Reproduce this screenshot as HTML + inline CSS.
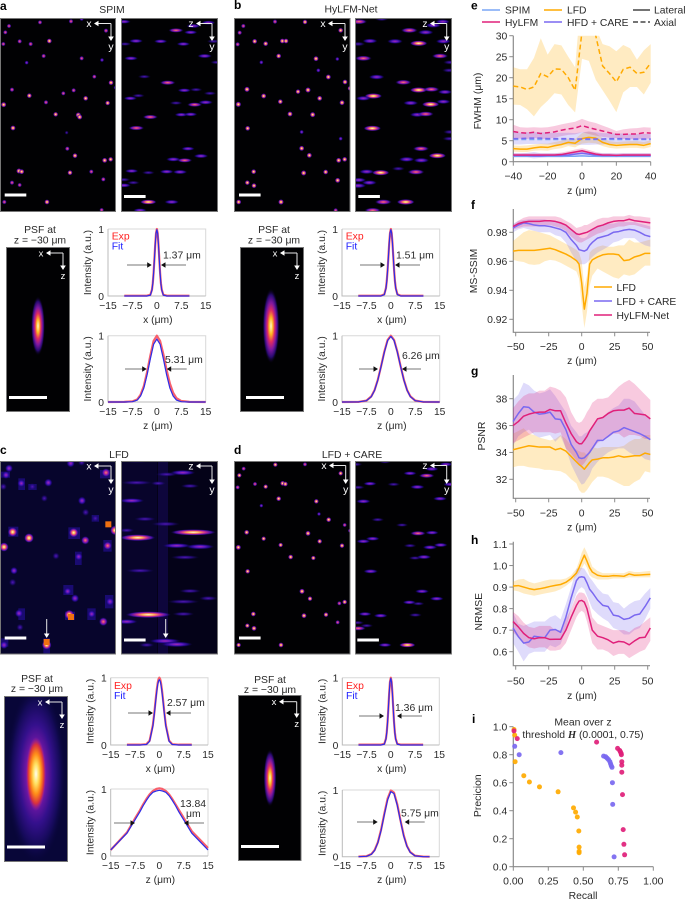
<!DOCTYPE html>
<html lang="en">
<head>
<meta charset="utf-8">
<title>Light-field microscopy resolution comparison figure</title>
<style>
html,body{margin:0;padding:0;background:#fff;width:685px;height:899px;overflow:hidden}
svg{display:block}
text{font-family:"Liberation Sans",sans-serif;fill:#2a2a2a}
.panel{font-weight:bold;font-size:12px;fill:#000}
.title{font-size:10.4px;text-anchor:middle}
.leg{font-size:10.3px}
.white{fill:#fff;font-size:10.4px;text-anchor:middle}
</style>
</head>
<body>
<svg id="figure" xmlns="http://www.w3.org/2000/svg" width="685" height="899" viewBox="0 0 685 899">
<defs>
<radialGradient id="spot1"><stop offset="0" stop-color="#5418b4"/><stop offset=".5" stop-color="#2c0c90" stop-opacity=".75"/><stop offset="1" stop-color="#100650" stop-opacity="0"/></radialGradient>
<radialGradient id="spot2"><stop offset="0" stop-color="#a828b0"/><stop offset=".38" stop-color="#5a18c0"/><stop offset=".7" stop-color="#2808a0" stop-opacity=".75"/><stop offset="1" stop-color="#100650" stop-opacity="0"/></radialGradient>
<radialGradient id="spot3"><stop offset="0" stop-color="#f08870"/><stop offset=".33" stop-color="#c82890"/><stop offset=".65" stop-color="#5814c0" stop-opacity=".9"/><stop offset="1" stop-color="#140660" stop-opacity="0"/></radialGradient>
<radialGradient id="spot4"><stop offset="0" stop-color="#fff8d8"/><stop offset=".28" stop-color="#ffb050"/><stop offset=".52" stop-color="#d03090"/><stop offset=".8" stop-color="#4810b0" stop-opacity=".9"/><stop offset="1" stop-color="#140660" stop-opacity="0"/></radialGradient>
<radialGradient id="psfGrad"><stop offset="0" stop-color="#fffad0"/><stop offset=".22" stop-color="#ffb820"/><stop offset=".42" stop-color="#e02c60"/><stop offset=".62" stop-color="#8018a0"/><stop offset=".82" stop-color="#280a70"/><stop offset="1" stop-color="#000" stop-opacity="0"/></radialGradient>
<radialGradient id="psfGradWide"><stop offset="0" stop-color="#a020a0"/><stop offset=".3" stop-color="#7a18a8"/><stop offset=".55" stop-color="#34108c"/><stop offset=".8" stop-color="#140a58"/><stop offset="1" stop-color="#080638" stop-opacity="0"/></radialGradient>
<radialGradient id="psfCore"><stop offset="0" stop-color="#fffef0"/><stop offset=".28" stop-color="#ffe060"/><stop offset=".55" stop-color="#ff8c18"/><stop offset=".8" stop-color="#d83040"/><stop offset="1" stop-color="#a020a0" stop-opacity="0"/></radialGradient>
<clipPath id="clipE"><rect x="513" y="35.7" width="138" height="127"/></clipPath>
</defs>

<g id="images"></g>
<g id="charts"></g>

<text class="panel" x="0" y="10">a</text>
<text class="panel" x="234" y="9">b</text>
<text class="panel" x="0" y="454">c</text>
<text class="panel" x="234" y="454">d</text>
<text class="panel" x="471" y="9.5">e</text>
<text class="panel" x="471" y="209">f</text>
<text class="panel" x="471" y="375">g</text>
<text class="panel" x="471" y="544">h</text>
<text class="panel" x="472" y="723">i</text>

<text class="title" x="112" y="13">SPIM</text>
<text class="title" x="351" y="12.5">HyLFM-Net</text>
<text class="title" x="119" y="458">LFD</text>
<text class="title" x="352" y="458">LFD + CARE</text>

<text class="title" x="40" y="233">PSF at</text>
<text class="title" x="40" y="243.3">z = −30 μm</text>
<text class="title" x="274" y="233">PSF at</text>
<text class="title" x="274" y="243.3">z = −30 μm</text>
<text class="title" x="37" y="682">PSF at</text>
<text class="title" x="37" y="692">z = −30 μm</text>
<text class="title" x="270" y="683">PSF at</text>
<text class="title" x="270" y="693">z = −30 μm</text>

<g>
<line x1="482" y1="10" x2="500" y2="10" stroke="#7aa5f5" stroke-width="1.5"/>
<text class="leg" x="505" y="13.5">SPIM</text>
<line x1="482" y1="22" x2="500" y2="22" stroke="#e0207a" stroke-width="1.5"/>
<text class="leg" x="505" y="26">HyLFM</text>
<line x1="544" y1="10" x2="562" y2="10" stroke="#ffaa00" stroke-width="1.5"/>
<text class="leg" x="567" y="13.5">LFD</text>
<line x1="544" y1="22" x2="562" y2="22" stroke="#7a68f0" stroke-width="1.5"/>
<text class="leg" x="567" y="26">HFD + CARE</text>
<line x1="633" y1="10" x2="650" y2="10" stroke="#222" stroke-width="1.3"/>
<text class="leg" x="654" y="13.5">Lateral</text>
<line x1="633" y1="22" x2="650" y2="22" stroke="#222" stroke-width="1.3" stroke-dasharray="5 2.5"/>
<text class="leg" x="654" y="26">Axial</text>
</g>

<g>
<line x1="594" y1="287" x2="612" y2="287" stroke="#ffaa00" stroke-width="1.5"/>
<text class="leg" x="616.5" y="291">LFD</text>
<line x1="594" y1="301" x2="612" y2="301" stroke="#7a68f0" stroke-width="1.5"/>
<text class="leg" x="616.5" y="305">LFD + CARE</text>
<line x1="594" y1="315" x2="612" y2="315" stroke="#e0207a" stroke-width="1.5"/>
<text class="leg" x="616.5" y="319">HyLFM-Net</text>
</g>

<text class="title" x="583" y="725.5">Mean over z</text>
<text x="583" y="738" text-anchor="middle" style="font-size:10.4px">threshold <tspan font-family="Liberation Serif" font-weight="bold" font-style="italic">H</tspan> (0.0001, 0.75)</text>

<g>
<text x="163" y="258.5" style="font-size:10.4px">1.37 μm</text>
<text x="165" y="363" style="font-size:10.4px">5.31 μm</text>
<text x="396" y="258.5" style="font-size:10.4px">1.51 μm</text>
<text x="402" y="359" style="font-size:10.4px">6.26 μm</text>
<text x="167" y="706" style="font-size:10.4px">2.57 μm</text>
<text x="180" y="807" style="font-size:10.4px">13.84</text>
<text x="186" y="817" style="font-size:10.4px">μm</text>
<text x="395" y="711" style="font-size:10.4px">1.36 μm</text>
<text x="401" y="816.5" style="font-size:10.4px">5.75 μm</text>
</g>
</svg>

<script>
// ---------- Chart e: FWHM vs z ----------
const zE = [-40,-36,-32,-28,-24,-20,-16,-12,-8,-4,0,4,8,12,16,20,24,28,32,36,40];
const eLfdAxial = [18,17.8,17.2,17.8,21,20.2,22.1,22,20,17,31,36,30,22.8,21,19,22,22.5,21,21.3,23.5];
const eLfdAxialUpper = [22.5,22,22,24.7,29.4,25.5,28,27.7,25,22.5,42,40,32,28,27.5,26.3,27.8,27,24.3,26.5,28];
const eLfdAxialLower = [13.6,13.5,12.5,10.8,13,14.5,16.3,16,13.5,11.7,24.5,24,19.5,17,14.5,11.8,16.5,17.8,17.8,16,18.8];
const eLfdLateral = [3.1,3,3,3.3,3.5,3.4,3.8,4.1,4.6,4.4,5.5,5.8,5.6,4.6,4.1,3.9,4,4.1,4.1,3.9,4.3];
const eLfdLateralUpper = [3.9,3.8,3.9,4.1,4.3,4.3,4.7,5,5.5,5.4,6.8,7.2,6.8,5.6,4.9,4.7,4.8,4.9,4.9,4.7,5.1];
const eLfdLateralLower = [2.4,2.3,2.3,2.6,2.7,2.6,3,3.2,3.7,3.4,4.3,4.5,4.4,3.7,3.3,3.1,3.2,3.3,3.3,3.1,3.5];
const eHylfmAxial = [7.2,6.9,6.8,7,6.7,6.9,7.1,7.5,7.8,8,8.6,8.1,7.7,7.3,6.9,6.5,6.5,6.6,6.6,6.9,6.8];
const eHylfmAxialUpper = [8.8,8.2,8.1,8.2,8.1,8.2,8.5,8.9,9.2,9.5,10.2,9.6,9.2,8.6,8,7.3,7.7,7.9,8,8.2,8.1];
const eHylfmAxialLower = [5.7,5.5,5.4,5.7,5.4,5.5,5.7,6.1,6.4,6.5,7,6.6,6.2,5.9,5.7,5.6,5.4,5.4,5.3,5.5,5.5];
const eHylfmLateral = [1.6,1.6,1.6,1.6,1.6,1.6,1.6,1.7,2,2.3,2.6,2.2,1.8,1.6,1.6,1.5,1.6,1.6,1.6,1.6,1.6];
const eHylfmLateralUpper = [2,2,2,2,2,2,2,2.2,2.5,2.9,3.2,2.8,2.3,2,2,1.9,2,2,2,2,2];
const eHylfmLateralLower = [1.2,1.2,1.2,1.2,1.2,1.2,1.2,1.3,1.5,1.8,2,1.7,1.3,1.2,1.2,1.1,1.2,1.2,1.2,1.2,1.2];
const eCareAxial = [5.5,5.5,5.6,5.6,5.6,5.5,5.5,5.5,5.5,5.4,5.4,5.4,5.4,5.4,5.5,5.5,5.5,5.4,5.4,5.4,5.4];
const eCareAxialUpper = [7,6.9,7,7,7,6.9,6.9,6.9,6.9,6.8,7,7.2,7,6.8,6.8,6.7,6.7,6.6,6.6,6.6,6.6];
const eCareAxialLower = [4.1,4.1,4.2,4.2,4.2,4.1,4.1,4.1,4.1,4,4,4,4.1,4.1,4.2,4.2,4.2,4.2,4.2,4.2,4.2];
const eCareLateral = [1.5,1.5,1.5,1.4,1.4,1.5,1.5,1.5,1.6,1.8,2,1.8,1.6,1.5,1.5,1.5,1.5,1.5,1.5,1.5,1.5];
const eCareLateralUpper = [2,2,2.1,2.3,2,2,2,2,2.1,2.4,2.6,2.4,2.1,2,2,2,2,2,2,2,2];
const eCareLateralLower = [1,1,1,.8,.9,1,1,1,1.1,1.2,1.4,1.2,1.1,1,1,1,1,1,1,1,1];
const eSpimAxial = [5.3,5.3,5.3,5.3,5.3,5.3,5.3,5.3,5.3,5.3,5.3,5.3,5.3,5.3,5.3,5.3,5.3,5.3,5.3,5.3,5.3];
const eSpimLateral = [1.3,1.3,1.3,1.3,1.3,1.3,1.3,1.3,1.3,1.3,1.4,1.3,1.3,1.3,1.3,1.3,1.3,1.3,1.3,1.3,1.3];
const eXTicks = [-40,-20,0,20,40];
const eXTickLabels = ['−40','−20','0','20','40'];
const eYTicks = [0,5,10,15,20,25,30];
const eYTickLabels = ['0','5','10','15','20','25','30'];

// ---------- Charts f, g, h: shared z positions ----------
const zMetric = [-52,-48,-44,-40,-36,-32,-28,-24,-20,-16,-12,-8,-4,-2,0,2,4,6,8,12,16,20,24,28,32,36,40,44,48,52];
const metricXTicks = [-50,-25,0,25,50];
const metricXTickLabels = ['−50','−25','0','25','50'];

const fLfd = [.967,.9675,.9675,.9675,.9675,.968,.9685,.969,.968,.9665,.965,.963,.9605,.958,.945,.927,.938,.958,.961,.963,.9645,.965,.965,.9645,.9605,.961,.963,.964,.9655,.9655];
const fLfdUpper = [.974,.977,.98,.9815,.981,.98,.979,.978,.976,.974,.972,.97,.968,.966,.96,.942,.95,.966,.968,.97,.971,.97,.97,.971,.971,.975,.973,.973,.974,.975];
const fLfdLower = [.961,.96,.9595,.958,.9575,.958,.96,.961,.9605,.959,.957,.955,.953,.948,.93,.914,.925,.943,.95,.955,.953,.951,.949,.948,.951,.95,.951,.954,.957,.957];
const fCare = [.983,.985,.9865,.986,.985,.9845,.9845,.984,.983,.982,.98,.975,.971,.968,.9675,.967,.968,.971,.973,.976,.977,.978,.98,.9805,.9815,.982,.9815,.98,.978,.977];
const fCareUpper = [.986,.988,.9885,.989,.989,.989,.989,.988,.988,.987,.985,.982,.979,.977,.976,.976,.977,.98,.982,.984,.985,.986,.986,.987,.987,.987,.987,.986,.985,.984];
const fCareLower = [.98,.982,.983,.982,.981,.98,.98,.98,.978,.977,.973,.966,.96,.958,.958,.958,.959,.961,.963,.966,.968,.97,.973,.974,.976,.976,.976,.973,.971,.97];
const fHylfm = [.984,.986,.987,.9875,.9875,.9875,.988,.988,.9875,.9865,.985,.982,.979,.9785,.979,.9795,.98,.981,.982,.984,.985,.9865,.9875,.988,.988,.989,.988,.9875,.987,.9865];
const fHylfmUpper = [.985,.988,.99,.991,.991,.991,.991,.991,.991,.99,.988,.986,.983,.9835,.984,.985,.985,.986,.987,.989,.99,.99,.991,.991,.991,.992,.991,.991,.9905,.99];
const fHylfmLower = [.982,.983,.984,.984,.984,.984,.985,.985,.984,.983,.981,.977,.974,.973,.973,.974,.975,.976,.977,.979,.98,.982,.983,.984,.984,.985,.985,.984,.983,.982];
const fYTicks = [.92,.94,.96,.98];
const fYTickLabels = ['0.92','0.94','0.96','0.98'];

const gHylfm = [36,36.3,36.7,36.85,36.95,37,37,37.2,37.1,37.1,36.2,35.4,34.8,34.65,34.65,34.9,35.2,35.6,35.9,36.5,36.6,36.9,37.1,37.15,37.15,37.3,36.9,36.85,36.8,36.5];
const gHylfmUpper = [37.3,37.8,38.2,38.4,38.4,38.6,38.6,38.9,38.8,38.6,38.1,37,36.3,36.2,36.3,36.6,37,37.3,37.7,38,38,38.1,38.5,38.9,39.2,39.4,39.1,38.7,38.3,37.9];
const gHylfmLower = [34.7,34.9,35.1,35.3,35.5,35.5,35.5,35.5,35.4,35.5,34.3,33.9,33.4,33.1,33,33.2,33.5,33.9,34.2,34.7,35,35.1,35.4,35.4,35.1,35.3,35.3,35.2,35,35];
const gCare = [36.3,36.9,37.4,37.35,37,36.85,36.9,37,36.5,36.45,35.7,34.6,34,33.6,33.55,33.6,33.8,34,34.3,34.9,34.9,35.2,35.5,35.6,35.85,35.7,35.55,35.4,35.2,34.95];
const gCareUpper = [37.9,38.3,39.2,39,38.6,38.4,38.5,38.7,38.2,37.6,37,36,35.5,35.2,35.2,35.4,35.5,35.7,36,36.4,36.6,37,37.3,37.5,38,38,37.8,37.3,36.8,36.5];
const gCareLower = [34.5,35.2,35.5,35.7,35.3,35.1,35.2,35.3,34.8,35.2,34.3,33.1,32.3,31.9,31.6,31.7,32,32.3,32.8,33.3,33.7,34,34.2,34.3,34.3,34,33.8,33.8,33.5,33.4];
const gLfd = [34.2,34.3,34.4,34.5,34.45,34.4,34.4,34.4,34.2,34.3,34.1,33.7,33.3,33.1,32.95,32.75,33,33.25,33.45,33.5,33.6,33.6,33.65,33.75,33.65,33.7,33.75,33.75,33.95,33.85];
const gLfdUpper = [35.4,35.6,35.8,35.4,35.3,35.1,35,34.9,35,35.3,35,34.5,34.2,34.1,34,34,33.8,34.2,34.4,34.3,34.4,34.4,34.4,34.4,34.5,34.8,35,35,35.3,35.3];
const gLfdLower = [32.9,33,33,32.9,32.85,32.8,32.7,32.7,32.65,32.6,32.4,32,31.7,31.2,31,31,31.2,31.5,31.8,32.2,32.2,32.1,31.9,31.7,31.5,31.5,31.8,32,32.6,32.5];
const gYTicks = [32,34,36,38];
const gYTickLabels = ['32','34','36','38'];

const hLfd = [.905,.907,.9,.893,.888,.892,.897,.903,.908,.912,.922,.94,.965,.99,1.02,1.048,1.02,.99,.97,.955,.95,.95,.953,.952,.95,.961,.955,.956,.958,.959];
const hLfdUpper = [.925,.935,.938,.925,.917,.923,.93,.935,.935,.935,.94,.955,.985,1.02,1.06,1.085,1.06,1.03,.995,.975,.965,.965,.965,.965,.965,.975,.97,.97,.973,.975];
const hLfdLower = [.885,.88,.87,.865,.86,.865,.87,.875,.88,.89,.905,.925,.95,.965,.985,1.01,.99,.955,.945,.935,.935,.935,.94,.94,.94,.945,.945,.945,.945,.945];
const hCare = [.71,.67,.64,.645,.672,.668,.665,.7,.703,.69,.76,.85,.93,.945,.948,.945,.92,.89,.875,.84,.815,.81,.77,.765,.75,.755,.77,.775,.81,.85];
const hCareUpper = [.78,.73,.72,.73,.74,.74,.74,.76,.77,.75,.82,.9,.985,.99,.99,.985,.965,.945,.93,.895,.87,.865,.83,.825,.8,.82,.835,.84,.87,.895];
const hCareLower = [.64,.6,.555,.59,.6,.6,.6,.63,.62,.635,.7,.8,.87,.89,.9,.89,.86,.83,.8,.775,.755,.74,.71,.7,.68,.68,.7,.71,.75,.8];
const hHylfm = [.74,.715,.685,.665,.66,.665,.665,.657,.658,.658,.7,.76,.815,.835,.838,.83,.8,.75,.7,.672,.665,.655,.64,.648,.645,.632,.65,.665,.667,.71];
const hHylfmUpper = [.785,.765,.735,.715,.71,.72,.72,.72,.7,.7,.75,.8,.86,.875,.875,.87,.85,.81,.76,.73,.72,.71,.7,.7,.7,.69,.71,.72,.74,.76];
const hHylfmLower = [.69,.665,.64,.62,.615,.62,.62,.605,.605,.61,.64,.7,.76,.78,.79,.78,.74,.69,.64,.61,.61,.6,.58,.59,.59,.57,.585,.6,.61,.65];
const hYTicks = [.6,.7,.8,.9,1,1.1];
const hYTickLabels = ['0.6','0.7','0.8','0.9','1.0','1.1'];

// ---------- Chart i: precision / recall ----------
const iLfdRecall = [.005,.01,.013,.075,.115,.187,.32,.43,.445,.457,.468,.47,.47,.47];
const iLfdPrecision = [.98,.94,.75,.65,.605,.57,.535,.42,.39,.355,.255,.14,.11,.1];
const iCareRecall = [.01,.042,.34,.645,.66,.67,.68,.69,.695,.7,.705,.708,.71,.72];
const iCarePrecision = [.86,.8,.815,.79,.785,.775,.765,.75,.735,.72,.71,.6,.445,.07];
const iHylfmRecall = [.005,.028,.595,.745,.76,.765,.77,.772,.775,.775,.775,.78,.785,.79,.795];
const iHylfmPrecision = [.97,.915,.89,.845,.83,.82,.81,.8,.75,.725,.675,.515,.265,.16,.085];
const iXTicks = [0,.25,.5,.75,1];
const iXTickLabels = ['0.00','0.25','0.50','0.75','1.00'];
const iYTicks = [0,.2,.4,.6,.8,1];
const iYTickLabels = ['0.0','0.2','0.4','0.6','0.8','1.0'];

// ---------- PSF profile plots ----------
const psfXTicks = [-15,-7.5,0,7.5,15];
const psfXTickLabels = ['−15','−7.5','0','7.5','15'];
const psfYTicks = [0,1];
const psfYTickLabels = ['0','1'];
const lateralPos = [-10,-6,-4,-3,-2,-1.5,-1.25,-1,-.75,-.5,-.25,0,.25,.5,.75,1,1.25,1.5,2,3,4,6,10];
const axialPos = [-15,-10,-7.5,-6,-5,-4,-3,-2,-1,0,1,2,3,4,5,6,7.5,10,15];
const axialPosD = [-10,-7.5,-6,-5,-4,-3,-2,-1,0,1,2,3,4,5,6,7.5,10,12];
const aLatExp = [.005,.005,.005,.006,.018,.095,.19,.345,.55,.77,.94,1,.94,.77,.55,.345,.19,.095,.018,.006,.005,.005,.005];
const aLatFit = [0,0,0,0,.013,.088,.184,.339,.544,.763,.935,.99,.935,.763,.544,.339,.184,.088,.013,0,0,0,0];
const aAxExp = [0,.002,.01,.04,.11,.24,.45,.7,.92,1,.92,.72,.48,.28,.14,.06,.015,.002,0];
const aAxFit = [0,0,.005,.03,.09,.21,.41,.65,.87,.95,.87,.65,.41,.21,.09,.03,.005,0,0];
const bLatExp = [.005,.005,.005,.006,.026,.12,.225,.385,.585,.79,.94,1,.94,.79,.585,.385,.225,.12,.026,.006,.005,.005,.005];
const bLatFit = [0,0,0,0,.021,.114,.22,.38,.58,.786,.94,.99,.94,.786,.58,.38,.22,.114,.021,0,0,0,0];
const bAxExp = [0,.001,.021,.085,.18,.335,.54,.76,.935,1,.935,.76,.54,.335,.18,.085,.021,.001,0];
const bAxFit = [0,.001,.02,.08,.175,.33,.535,.75,.925,.99,.925,.75,.535,.33,.175,.08,.02,.001,0];
const cLatExp = [.005,.005,.012,.065,.295,.5,.62,.735,.84,.925,.98,1,.98,.925,.84,.735,.62,.5,.295,.065,.012,.005,.005];
const cLatFit = [0,0,.007,.055,.28,.48,.6,.71,.815,.9,.95,.97,.95,.9,.815,.71,.6,.48,.28,.055,.007,0,0];
const cAxExp = [.09,.35,.56,.68,.77,.85,.92,.97,1,1.01,1,.97,.92,.85,.77,.69,.57,.37,.12];
const cAxFit = [.09,.34,.54,.66,.75,.83,.9,.95,.97,.98,.97,.95,.9,.83,.75,.66,.54,.34,.09];
const dLatExp = [.005,.005,.005,.006,.018,.095,.19,.345,.55,.77,.94,1,.94,.77,.55,.345,.19,.095,.018,.006,.005,.005,.005];
const dLatFit = [0,0,0,0,.013,.088,.184,.339,.544,.763,.935,.99,.935,.763,.544,.339,.184,.088,.013,0,0,0,0];
const dAxExp = [.002,.008,.04,.1,.216,.405,.645,.87,.993,.96,.786,.545,.32,.16,.07,.015,.002,0];
const dAxFit = [0,.006,.036,.094,.21,.395,.63,.85,.975,.945,.77,.535,.31,.155,.065,.012,0,0];

// ---------- Image spots: [column, row, intensity] in image raster units ----------
const spotsAXY = [[27,78,.5],[16,97,.5],[120,67,.5],[213,64,.6],[318,92,.6],[10,132,.5],[59,124,.6],[92,132,.6],[148,123,.8],[131,168,.6],[80,188,.3],[245,175,.6],[306,180,.3],[283,230,.5],[333,248,.8],[347,263,.4],[36,269,.6],[88,287,.8],[190,280,.5],[221,271,.6],[257,295,.8],[138,307,.6],[11,314,1],[323,309,.7],[167,343,.7],[235,345,1],[239,351,1],[39,384,.9],[200,398,.2],[202,446,.6],[225,467,.8],[314,481,.9],[332,478,.7],[57,513,1],[65,515,.9],[210,518,.8],[274,515,.6],[310,538,.6],[36,548,.6],[59,555,.5],[13,606,.6],[141,606,.8],[305,630,.5],[245,57,.3]];
const spotsAZY = [[372,65,.4],[528,91,.7],[572,97,.4],[625,68,.5],[580,78,.5],[408,123,.5],[482,124,.4],[375,132,.3],[550,132,.4],[640,124,.3],[393,175,.5],[614,168,.6],[650,187,.3],[433,230,.3],[503,248,.8],[553,271,.4],[588,269,.3],[630,280,.3],[415,287,.3],[391,295,.4],[528,309,.3],[584,314,.7],[617,307,.6],[544,344,.4],[572,343,.4],[451,351,.7],[409,384,.8],[564,446,.4],[603,468,.6],[520,478,.6],[554,481,.7],[395,513,.4],[445,518,.3],[500,515,.5],[540,516,.6],[372,539,.3],[400,548,.3],[372,556,.5],[445,606,.9],[515,606,.6],[420,631,.4]];
const spotsBXY = [[40,78,.5],[29,98,.5],[135,65,.5],[225,66,.6],[332,91,.7],[23,133,.5],[74,124,.7],[107,131,.7],[157,123,.7],[168,123,.7],[146,168,.7],[94,187,.25],[258,176,.8],[322,177,.2],[265,211,.3],[295,231,.8],[345,246,.7],[360,265,.6],[51,268,.9],[101,288,.8],[204,275,.6],[234,270,.9],[269,295,.8],[151,305,.7],[25,313,.95],[336,308,.8],[180,342,.8],[248,344,.9],[53,385,.7],[215,396,.3],[332,416,.25],[215,445,.8],[238,466,.8],[326,481,.8],[344,478,.7],[71,515,.7],[221,519,.9],[287,516,.7],[323,541,.8],[52,548,.6],[72,557,.7],[26,606,.7],[153,606,.9],[317,631,.5]];
const spotsBZY = [[387,65,.7],[455,57,.2],[538,91,.8],[587,97,.6],[638,65,.4],[610,76,.6],[420,123,.5],[495,124,.6],[385,132,.3],[566,130,.9],[640,124,.5],[400,175,.8],[630,168,.7],[660,187,.3],[657,211,.3],[440,231,.6],[520,247,.7],[566,270,.9],[604,268,.7],[645,276,.4],[430,288,.9],[400,295,.5],[542,309,.5],[602,313,.9],[640,305,.4],[562,344,.5],[587,342,.7],[427,385,.9],[660,396,.3],[658,416,.3],[573,446,.7],[622,467,.9],[530,478,.6],[574,481,.6],[410,515,.5],[452,518,.9],[505,506,.2],[558,516,.8],[387,540,.4],[418,548,.5],[385,557,.6],[460,606,.8],[527,606,.95],[428,631,.7]];
const spotsCXY = [[27,115,.5],[18,135,.5],[64,160,.5],[10,170,.3],[97,170,.3],[145,158,.6],[212,100,.6],[245,97,.3],[318,128,.8],[133,205,.25],[246,212,.6],[257,247,.35],[286,265,.3],[38,306,1],[87,324,1],[221,308,1],[345,301,1],[12,351,.9],[256,331,.7],[323,347,.7],[168,378,.3],[236,380,.5],[42,422,.4],[38,457,.35],[203,484,.4],[225,505,.6],[330,515,.6],[57,550,.6],[208,554,1],[275,552,.4],[310,575,.8],[60,592,.25],[140,645,1],[12,645,.6]];
const patchesC = [[55,145,20,35],[85,162,25,18],[0,125,30,18],[205,292,35,35],[310,330,25,35],[225,365,20,40],[190,465,30,30],[315,495,25,40],[55,535,20,35],[262,535,25,35],[195,545,30,25],[275,255,22,20],[300,120,30,25],[130,625,20,45],[0,625,25,25],[25,290,30,30]];
const hotPixelsC = [[325,283],[213,561],[140,636]];
const streaksCZY = [[548,128,35,.5],[500,133,30,.2],[410,158,45,.25],[475,160,20,.2],[570,168,25,.15],[395,212,35,.4],[435,267,30,.2],[497,282,40,.3],[580,307,65,.85],[413,323,50,1],[530,347,40,.4],[600,350,40,.55],[380,301,20,.2],[555,382,40,.2],[420,422,40,.2],[570,483,30,.15],[550,515,45,.25],[625,505,25,.3],[445,554,65,1],[380,575,30,.4],[550,552,30,.15],[495,633,45,.5],[530,643,45,.6],[440,645,20,.2],[410,92,40,.15]];
const spotsDXY = [[41,116,.5],[28,136,.6],[136,104,.6],[225,103,.5],[332,130,.6],[23,172,.5],[75,162,.5],[107,170,.6],[158,160,.8],[166,162,.8],[146,206,.8],[94,227,.2],[259,214,.7],[267,252,.2],[296,269,.8],[344,285,.4],[360,302,.4],[50,307,.8],[101,326,.6],[234,310,.9],[269,334,.7],[152,345,.6],[25,352,.95],[336,347,.7],[182,381,.8],[250,384,.6],[53,424,.7],[216,484,1],[240,506,.7],[328,520,.5],[344,516,.7],[70,552,.8],[222,557,.9],[288,554,.7],[323,577,.5],[52,587,.6],[72,595,.9],[26,645,.6],[153,645,.8]];
const spotsDZY = [[378,103,.3],[465,95,.2],[540,130,.4],[590,137,.8],[605,117,.5],[648,103,.4],[420,161,.4],[491,163,.3],[385,172,.3],[562,171,.6],[660,163,.4],[400,214,.6],[630,206,.5],[443,269,.3],[516,285,.2],[564,310,.8],[606,308,.4],[428,326,.5],[400,334,.5],[540,347,.3],[600,352,.6],[632,345,.5],[555,384,.3],[582,381,.6],[422,424,.6],[576,484,.5],[620,506,.5],[538,517,.4],[565,521,.2],[405,552,.4],[452,557,.5],[556,555,.35],[383,578,.3],[410,587,.3],[385,595,.7],[465,645,.4],[532,645,.9]];

// ---------- Helpers ----------
const NS = 'http://www.w3.org/2000/svg';
const COLORS = {lfd:'#ffaa00', care:'#7a68f0', hylfm:'#e0207a', spim:'#7aa5f5'};
const figure = document.getElementById('figure');
const imagesRoot = document.getElementById('images');
const chartsRoot = document.getElementById('charts');
const defs = figure.querySelector('defs');

function make(tag, attrs, parent, content) {
  const e = document.createElementNS(NS, tag);
  for (const k in attrs) e.setAttribute(k, attrs[k]);
  if (content !== undefined) e.textContent = content;
  parent.appendChild(e);
  return e;
}
function linear(d0, d1, r0, r1) {
  return v => r0 + (v - d0) / (d1 - d0) * (r1 - r0);
}
function linePath(xs, ys, sx, sy) {
  return xs.map((x, i) => (i ? 'L' : 'M') + sx(x).toFixed(2) + ' ' + sy(ys[i]).toFixed(2)).join('');
}
function bandPath(xs, up, lo, sx, sy) {
  let d = linePath(xs, up, sx, sy);
  for (let i = xs.length - 1; i >= 0; i--) d += 'L' + sx(xs[i]).toFixed(2) + ' ' + sy(lo[i]).toFixed(2);
  return d + 'Z';
}
function drawBand(g, xs, up, lo, sx, sy, color, name) {
  const b = make('path', {d: bandPath(xs, up, lo, sx, sy), fill: color, 'fill-opacity': .24}, g);
  
  
}
function drawLine(g, xs, ys, sx, sy, color, name, dash, width) {
  const l = make('path', {d: linePath(xs, ys, sx, sy), fill: 'none', stroke: color, 'stroke-width': width || 1.5, 'stroke-linejoin': 'round'}, g);
  if (dash) l.setAttribute('stroke-dasharray', dash);
  
  
}
function drawArrow(g, x1, x2, y, color, name) {
  const dir = x2 > x1 ? 1 : -1;
  const shaft = make('line', {x1: x1, y1: y, x2: x2 - dir * 3, y2: y, stroke: color, 'stroke-width': 1}, g);
  
  
  const head = make('polygon', {points: x2 + ',' + y + ' ' + (x2 - dir * 4.5) + ',' + (y - 2.8) + ' ' + (x2 - dir * 4.5) + ',' + (y + 2.8), fill: color === '#777' ? '#111' : color}, g);
  
  
}
function drawDownArrow(g, x, y1, y2, name) {
  const shaft = make('line', {x1: x, y1: y1, x2: x, y2: y2 - 3, stroke: '#e8e8e8', 'stroke-width': 1}, g);
  
  
  const head = make('polygon', {points: x + ',' + y2 + ' ' + (x - 2.8) + ',' + (y2 - 4.5) + ' ' + (x + 2.8) + ',' + (y2 - 4.5), fill: '#fff'}, g);
  
  
}
function spotFill(i) {
  if (i <= .35) return 'url(#spot1)';
  if (i <= .6) return 'url(#spot2)';
  if (i <= .8) return 'url(#spot3)';
  return 'url(#spot4)';
}
function drawSpots(g, list, ox, oy, rx, ry, name, boost) {
  list.forEach(s => {
    const sp = make('ellipse', {cx: ox + s[0] / 3, cy: oy + s[1] / 3, rx: rx * (.8 + s[2] * .4), ry: ry * (.8 + s[2] * .4), fill: spotFill(s[2] + (boost || 0))}, g);
    
    
  });
}
let clipCount = 0;
function imageFrame(x, y, w, h, bg, name) {
  const id = 'imgClip' + (++clipCount);
  const cp = make('clipPath', {id: id}, defs);
  make('rect', {x: x, y: y, width: w, height: h}, cp);
  const g = make('g', {'clip-path': 'url(#' + id + ')'}, imagesRoot);
  
  
  const r = make('rect', {x: x, y: y, width: w, height: h, fill: bg}, g);
  
  
  const b = make('rect', {x: x + .5, y: y + .5, width: w - 1, height: h - 1, fill: 'none', stroke: '#777', 'stroke-width': 1}, imagesRoot);
  
  
  return g;
}
function orientation(cornerX, cornerY, leftX, downY, hLabel, vLabel, size) {
  const g = make('g', {}, imagesRoot);
  
  
  const seg = make('line', {x1: cornerX, y1: cornerY, x2: leftX + 3, y2: cornerY, stroke: '#e8e8e8', 'stroke-width': 1}, g);
  
  
  const hd = make('polygon', {points: leftX + ',' + cornerY + ' ' + (leftX + 4.5) + ',' + (cornerY - 2.8) + ' ' + (leftX + 4.5) + ',' + (cornerY + 2.8), fill: '#fff'}, g);
  
  
  drawDownArrow(g, cornerX, cornerY, downY, 'orientation-vertical');
  const tH = make('text', {x: leftX - 5, y: cornerY + 3.5, 'class': 'white', style: 'font-size:' + size + 'px'}, g, hLabel);
  
  
  const tV = make('text', {x: cornerX, y: downY + 9, 'class': 'white', style: 'font-size:' + size + 'px'}, g, vLabel);
  
  
}
function scaleBar(x, y, w, name) {
  const r = make('rect', {x: x, y: y, width: w, height: 3, fill: '#fff'}, imagesRoot);
  
  
}

// ---------- Draw microscopy images ----------
(function () {
  const aXY = imageFrame(0, 18, 116, 194, '#010103', 'spim-xy-image');
  drawSpots(aXY, spotsAXY, 0, 0, 2.3, 2.3, 'bead-spot', .15);
  const aZY = imageFrame(121, 18, 97, 194, '#010103', 'spim-zy-image');
  drawSpots(aZY, spotsAZY, 0, 0, 7, 2.1, 'bead-streak');
  const bXY = imageFrame(234, 18, 116.5, 194, '#010103', 'hylfm-xy-image');
  drawSpots(bXY, spotsBXY, 230, 0, 2.4, 2.4, 'bead-spot', .25);
  const bZY = imageFrame(355, 18, 97, 194, '#010103', 'hylfm-zy-image');
  drawSpots(bZY, spotsBZY, 230, 0, 7.5, 2.4, 'bead-streak');

  const cXY = imageFrame(0, 461, 116, 193.5, '#07052c', 'lfd-xy-image');
  patchesC.forEach(p => {
    const r = make('rect', {x: p[0] / 3, y: 430 + p[1] / 3, width: p[2] / 3, height: p[3] / 3, fill: '#200e88', 'fill-opacity': .75}, cXY);
    
    
  });
  drawSpots(cXY, spotsCXY, 0, 430, 4, 4, 'bead-spot');
  hotPixelsC.forEach(p => {
    const r = make('rect', {x: p[0] / 3 - 3, y: 430 + p[1] / 3 - 3, width: 6, height: 6, fill: '#f07010'}, cXY);
    
    
  });
  const cZY = imageFrame(121, 461, 97, 193.5, '#040218', 'lfd-zy-image');
  const stripe = make('rect', {x: 158, y: 461, width: 10, height: 194, fill: '#1a0c68', 'fill-opacity': .45}, cZY);
  
  
  const stripe2 = make('rect', {x: 121, y: 461, width: 36, height: 194, fill: '#120a50', 'fill-opacity': .35}, cZY);
  
  
  streaksCZY.forEach(s => {
    const sp = make('ellipse', {cx: s[0] / 3, cy: 430 + s[1] / 3, rx: s[2] / 3 + 1, ry: 2 + s[3] * 1.3, fill: spotFill(s[3])}, cZY);
    
    
  });

  const dXY = imageFrame(234, 461, 116.5, 193.5, '#010103', 'lfd-care-xy-image');
  drawSpots(dXY, spotsDXY, 230, 430, 2.3, 2.3, 'bead-spot', .25);
  const dZY = imageFrame(355, 461, 97, 193.5, '#010103', 'lfd-care-zy-image');
  drawSpots(dZY, spotsDZY, 230, 430, 7, 2.1, 'bead-streak');

  [[0, 0, 111, 23.5, 94, 41, 'x', 'y'], [0, 0, 212, 23.5, 196, 41, 'z', 'y'],
   [0, 0, 345, 23.5, 328, 41, 'x', 'y'], [0, 0, 446.7, 23.5, 430, 41, 'z', 'y'],
   [0, 0, 111, 466, 94, 484, 'x', 'y'], [0, 0, 212, 466, 196, 484, 'z', 'y'],
   [0, 0, 345.7, 465.5, 329, 484, 'x', 'y'], [0, 0, 446.7, 465.5, 430, 484, 'z', 'y']
  ].forEach(a => orientation(a[2], a[3], a[4], a[5], a[6], a[7], 10.4));

  scaleBar(4.7, 193.5, 21.6, 'scale-bar-spim-xy');
  scaleBar(124, 195, 21.6, 'scale-bar-spim-zy');
  scaleBar(239, 193.5, 21.6, 'scale-bar-hylfm-xy');
  scaleBar(358.3, 195, 21.6, 'scale-bar-hylfm-zy');
  scaleBar(4.7, 636.5, 21.6, 'scale-bar-lfd-xy');
  scaleBar(124, 638.5, 21.6, 'scale-bar-lfd-zy');
  scaleBar(239, 636.5, 21.6, 'scale-bar-care-xy');
  scaleBar(357.3, 638.5, 21.6, 'scale-bar-care-zy');

  const cArrowXY = make('g', {}, imagesRoot);
  
  
  drawDownArrow(cArrowXY, 46.7, 619, 638, 'lfd-xy-highlight');
  const cArrowZY = make('g', {}, imagesRoot);
  
  
  drawDownArrow(cArrowZY, 165.7, 619, 638, 'lfd-zy-highlight');

  const psfs = [
    {n: 'a', x: 6, y: 247, w: 64, h: 165, cx: 38, cy: 326, rx: 7, ry: 30, bg: '#010103', grad: 'psfGrad', corner: 63, cy0: 253, left: 46, down: 270, bar: 9, barY: 396},
    {n: 'b', x: 240, y: 247, w: 64, h: 165, cx: 271, cy: 326, rx: 8.5, ry: 38, bg: '#010103', grad: 'psfGrad', corner: 297, cy0: 253, left: 280, down: 270, bar: 246, barY: 396},
    {n: 'c', x: 4, y: 696, w: 64, h: 166, cx: 36, cy: 774, rx: 30, ry: 90, bg: '#080638', grad: 'psfGradWide', corner: 62, cy0: 702, left: 45, down: 719, bar: 7, barY: 845.5},
    {n: 'd', x: 238, y: 695, w: 63.5, h: 166, cx: 270, cy: 778, rx: 6.5, ry: 29, bg: '#010103', grad: 'psfGrad', corner: 296.7, cy0: 701.7, left: 279, down: 718, bar: 241, barY: 845}
  ];
  psfs.forEach(p => {
    const g = imageFrame(p.x, p.y, p.w, p.h, p.bg, 'psf-image-' + p.n);
    const e = make('ellipse', {cx: p.cx, cy: p.cy, rx: p.rx, ry: p.ry, fill: 'url(#' + p.grad + ')'}, g);
    
    
    if (p.n === 'c') {
      const core = make('ellipse', {cx: p.cx, cy: p.cy, rx: 10, ry: 37, fill: 'url(#psfCore)'}, g);
      
      
    }
    orientation(p.corner, p.cy0, p.left, p.down, 'x', 'z', 9.5);
    scaleBar(p.bar, p.barY, 38, 'scale-bar-psf-' + p.n);
  });
})();

// ---------- PSF profile plots ----------
const psfPlots = [
  {id:'a-lateral', x0:108,   x1:205.7, top:229,   bot:296,   pos:lateralPos, exp:aLatExp, fit:aLatFit, axis:'x (μm)', labelY:319, tickY:305, legend:[111.7,239.7,249.7], arrows:[127,151.7,186,161,265]},
  {id:'a-axial',   x0:108,   x1:205.7, top:335.7, bot:402,   pos:axialPos,   exp:aAxExp,  fit:aAxFit,  axis:'z (μm)', labelY:425, tickY:411, arrows:[125,146.7,186.7,166.7,369]},
  {id:'b-lateral', x0:342,   x1:439.7, top:229,   bot:296,   pos:lateralPos, exp:bLatExp, fit:bLatFit, axis:'x (μm)', labelY:319, tickY:305, legend:[345.7,239.7,249.7], arrows:[360,385,420,395,265]},
  {id:'b-axial',   x0:342,   x1:439.7, top:335.7, bot:402,   pos:axialPos,   exp:bAxExp,  fit:bAxFit,  axis:'z (μm)', labelY:425, tickY:411, arrows:[359,378,421,402,369]},
  {id:'c-lateral', x0:110.7, x1:208,   top:677.7, bot:745,   pos:lateralPos, exp:cLatExp, fit:cLatFit, axis:'x (μm)', labelY:768, tickY:754, legend:[114,689,699], arrows:[128,153,191,166,713]},
  {id:'c-axial',   x0:110.7, x1:208,   top:789,   bot:856,   pos:axialPos,   exp:cAxExp,  fit:cAxFit,  axis:'z (μm)', labelY:879, tickY:865, arrows:[114,135,204,184,823]},
  {id:'d-lateral', x0:342.3, x1:439.3, top:677.7, bot:745,   pos:lateralPos, exp:dLatExp, fit:dLatFit, axis:'x (μm)', labelY:768, tickY:754, legend:[346,689,699], arrows:[359,384,422,397,716]},
  {id:'d-axial',   x0:342.3, x1:439.3, top:790,   bot:856.7, pos:axialPosD,  exp:dAxExp,  fit:dAxFit,  axis:'z (μm)', labelY:879, tickY:865, arrows:[357,377.7,424.7,404.7,822]}
];
psfPlots.forEach(p => {
  const g = make('g', {}, chartsRoot);
  
  
  const sx = linear(-15, 15, p.x0, p.x1);
  const sy = linear(0, 1, p.bot, p.top);
  const frame = make('path', {d: 'M' + p.x0 + ' ' + p.top + 'H' + p.x1 + 'V' + p.bot, fill: 'none', stroke: '#d8d8d8', 'stroke-width': 1}, g);
  
  
  const axes = make('path', {d: 'M' + p.x0 + ' ' + p.top + 'V' + p.bot + 'H' + p.x1, fill: 'none', stroke: '#bbb', 'stroke-width': 1}, g);
  
  
  psfXTicks.forEach((v, i) => {
    const t = make('text', {x: sx(v), y: p.tickY + 4, 'text-anchor': 'middle', style: 'font-size:10.3px'}, g, psfXTickLabels[i]);
    
    
  });
  psfYTicks.forEach((v, i) => {
    const t = make('text', {x: p.x0 - 4, y: sy(v) + 4, 'text-anchor': 'end', style: 'font-size:10.3px'}, g, psfYTickLabels[i]);
    
    
  });
  const xl = make('text', {x: (p.x0 + p.x1) / 2 + 1, y: p.labelY + 4, 'text-anchor': 'middle', style: 'font-size:10.3px'}, g, p.axis);
  
  
  const ymid = (p.top + p.bot) / 2;
  const yl = make('text', {x: 0, y: 0, 'text-anchor': 'middle', transform: 'translate(' + (p.x0 - 17) + ' ' + ymid + ') rotate(-90)', style: 'font-size:10.3px'}, g, 'Intensity (a.u.)');
  
  
  drawLine(g, p.pos, p.exp, sx, sy, '#f8606c', 'exp-profile', null, 2.2);
  drawLine(g, p.pos, p.fit, sx, sy, '#2c2ce8', 'fit-profile', null, 1.2);
  if (p.legend) {
    const te = make('text', {x: p.legend[0], y: p.legend[1], style: 'font-size:10.4px;fill:#ff2020'}, g, 'Exp');
    
    
    const tf = make('text', {x: p.legend[0], y: p.legend[2], style: 'font-size:10.4px;fill:#2020ff'}, g, 'Fit');
    
    
  }
  const a = p.arrows;
  drawArrow(g, a[0], a[1], a[4], '#777', 'fwhm-left-arrow');
  drawArrow(g, a[2], a[3], a[4], '#777', 'fwhm-right-arrow');
});

// ---------- Generic metric axes ----------
function metricAxes(cfg) {
  const g = make('g', {}, chartsRoot);
  
  
  const axes = make('path', {d: 'M' + cfg.left + ' ' + cfg.top + 'V' + cfg.bot + 'H' + cfg.right, fill: 'none', stroke: '#8a8a8a', 'stroke-width': 1.2}, g);
  
  
  cfg.xTicks.forEach((v, i) => {
    const tk = make('line', {x1: cfg.sx(v), y1: cfg.bot, x2: cfg.sx(v), y2: cfg.bot + 4, stroke: '#8a8a8a', 'stroke-width': 1}, g);
    
    
    const t = make('text', {x: cfg.sx(v), y: cfg.xTickY + 4, 'text-anchor': 'middle', style: 'font-size:10.4px'}, g, cfg.xLabels[i]);
    
    
  });
  cfg.yTicks.forEach((v, i) => {
    const tk = make('line', {x1: cfg.left - 4, y1: cfg.sy(v), x2: cfg.left, y2: cfg.sy(v), stroke: '#8a8a8a', 'stroke-width': 1}, g);
    
    
    const t = make('text', {x: cfg.left - 6, y: cfg.sy(v) + 3.8, 'text-anchor': 'end', style: 'font-size:10.4px'}, g, cfg.yLabels[i]);
    
    
  });
  const xl = make('text', {x: cfg.xTitleX, y: cfg.xTitleY + 4, 'text-anchor': 'middle', style: 'font-size:10.4px'}, g, cfg.xTitle);
  
  
  const yl = make('text', {x: 0, y: 0, 'text-anchor': 'middle', transform: 'translate(' + cfg.yTitleX + ' ' + cfg.yTitleY + ') rotate(-90)', style: 'font-size:10.4px'}, g, cfg.yTitle);
  
  
  return g;
}

// ---------- Chart e ----------
(function () {
  const sx = linear(-40, 40, 513.3, 650.7);
  const sy = linear(0, 30, 161.7, 35.7);
  const g = metricAxes({name: 'fwhm-chart', left: 513.3, right: 650.7, top: 35.7, bot: 161.7, sx: sx, sy: sy,
    xTicks: eXTicks, xLabels: eXTickLabels, yTicks: eYTicks, yLabels: eYTickLabels, xTickY: 175.7,
    xTitle: 'z (μm)', xTitleX: 582, xTitleY: 190, yTitle: 'FWHM (μm)', yTitleX: 481, yTitleY: 101});
  const c = make('g', {'clip-path': 'url(#clipE)'}, g);
  
  
  drawBand(c, zE, eLfdAxialUpper, eLfdAxialLower, sx, sy, COLORS.lfd, 'lfd-axial');
  drawBand(c, zE, eLfdLateralUpper, eLfdLateralLower, sx, sy, COLORS.lfd, 'lfd-lateral');
  drawBand(c, zE, eHylfmAxialUpper, eHylfmAxialLower, sx, sy, COLORS.hylfm, 'hylfm-axial');
  drawBand(c, zE, eCareAxialUpper, eCareAxialLower, sx, sy, COLORS.care, 'care-axial');
  drawBand(c, zE, eHylfmLateralUpper, eHylfmLateralLower, sx, sy, COLORS.hylfm, 'hylfm-lateral');
  drawBand(c, zE, eCareLateralUpper, eCareLateralLower, sx, sy, COLORS.care, 'care-lateral');
  drawLine(c, zE, eSpimAxial, sx, sy, COLORS.spim, 'spim-axial', '5 3');
  drawLine(c, zE, eSpimLateral, sx, sy, COLORS.spim, 'spim-lateral');
  drawLine(c, zE, eLfdAxial, sx, sy, COLORS.lfd, 'lfd-axial', '5 3');
  drawLine(c, zE, eLfdLateral, sx, sy, COLORS.lfd, 'lfd-lateral');
  drawLine(c, zE, eCareAxial, sx, sy, COLORS.care, 'care-axial', '5 3');
  drawLine(c, zE, eCareLateral, sx, sy, COLORS.care, 'care-lateral');
  drawLine(c, zE, eHylfmAxial, sx, sy, COLORS.hylfm, 'hylfm-axial', '5 3');
  drawLine(c, zE, eHylfmLateral, sx, sy, COLORS.hylfm, 'hylfm-lateral');
})();

// ---------- Charts f, g, h ----------
const xMetric = linear(-50, 50, 515.7, 647.7);
function metricChart(cfg) {
  const g = metricAxes(Object.assign({left: 513.3, right: 650, sx: xMetric, xTicks: metricXTicks, xLabels: metricXTickLabels, xTitle: 'z (μm)', xTitleX: 582}, cfg));
  cfg.series.forEach(s => drawBand(g, zMetric, s.up, s.lo, xMetric, cfg.sy, s.color, s.name));
  cfg.series.forEach(s => drawLine(g, zMetric, s.y, xMetric, cfg.sy, s.color, s.name));
}
metricChart({name: 'ms-ssim-chart', top: 209, bot: 332.3, sy: linear(.92, .98, 319.3, 232.3), yTicks: fYTicks, yLabels: fYTickLabels, xTickY: 346,
  xTitleY: 360, yTitle: 'MS-SSIM', yTitleX: 477, yTitleY: 271, series: [
  {name: 'lfd', color: COLORS.lfd, y: fLfd, up: fLfdUpper, lo: fLfdLower},
  {name: 'lfd-care', color: COLORS.care, y: fCare, up: fCareUpper, lo: fCareLower},
  {name: 'hylfm', color: COLORS.hylfm, y: fHylfm, up: fHylfmUpper, lo: fHylfmLower}]});
metricChart({name: 'psnr-chart', top: 375, bot: 498.3, sy: linear(32, 38, 479.3, 398.7), yTicks: gYTicks, yLabels: gYTickLabels, xTickY: 512.7,
  xTitleY: 526.7, yTitle: 'PSNR', yTitleX: 485, yTitleY: 436, series: [
  {name: 'lfd', color: COLORS.lfd, y: gLfd, up: gLfdUpper, lo: gLfdLower},
  {name: 'lfd-care', color: COLORS.care, y: gCare, up: gCareUpper, lo: gCareLower},
  {name: 'hylfm', color: COLORS.hylfm, y: gHylfm, up: gHylfmUpper, lo: gHylfmLower}]});
metricChart({name: 'nrmse-chart', top: 541.7, bot: 665.7, sy: linear(.6, 1.1, 651.7, 544), yTicks: hYTicks, yLabels: hYTickLabels, xTickY: 680.7,
  xTitleY: 695, yTitle: 'NRMSE', yTitleX: 482, yTitleY: 611.7, series: [
  {name: 'lfd', color: COLORS.lfd, y: hLfd, up: hLfdUpper, lo: hLfdLower},
  {name: 'lfd-care', color: COLORS.care, y: hCare, up: hCareUpper, lo: hCareLower},
  {name: 'hylfm', color: COLORS.hylfm, y: hHylfm, up: hHylfmUpper, lo: hHylfmLower}]});

// ---------- Chart i ----------
(function () {
  const sx = linear(0, 1, 513.3, 653.3);
  const sy = linear(0, 1, 866.7, 726.7);
  const g = metricAxes({name: 'precision-recall-chart', left: 513.3, right: 653.3, top: 726.7, bot: 866.7, sx: sx, sy: sy,
    xTicks: iXTicks, xLabels: iXTickLabels, yTicks: iYTicks, yLabels: iYTickLabels, xTickY: 880.7,
    xTitle: 'Recall', xTitleX: 583, xTitleY: 895, yTitle: 'Precicion', yTitleX: 481, yTitleY: 795.7});
  function dots(xs, ys, color, name) {
    xs.forEach((x, i) => {
      const d = make('circle', {cx: sx(x), cy: sy(ys[i]), r: 2.5, fill: color, 'fill-opacity': .92}, g);
      
      
    });
  }
  dots(iLfdRecall, iLfdPrecision, COLORS.lfd, 'lfd-point');
  dots(iCareRecall, iCarePrecision, COLORS.care, 'lfd-care-point');
  dots(iHylfmRecall, iHylfmPrecision, COLORS.hylfm, 'hylfm-point');
})();
</script>
</body>
</html>
